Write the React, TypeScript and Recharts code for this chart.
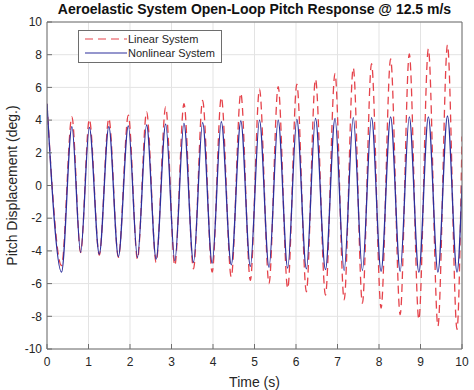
import React from 'react';
import { LineChart, Line, XAxis, YAxis, CartesianGrid } from 'recharts';

// extrema (start, trough, peak, trough, ..., end)
const times = [
  0, 0.35, 0.6, 0.81, 1.02, 1.26, 1.49, 1.72, 1.96, 2.18, 2.4, 2.63, 2.86, 3.08, 3.3,
  3.53, 3.75, 3.98, 4.2, 4.44, 4.67, 4.9, 5.12, 5.35, 5.57, 5.8, 6.02, 6.25, 6.47, 6.71,
  6.94, 7.16, 7.38, 7.6, 7.82, 8.05, 8.28, 8.51, 8.73, 8.96, 9.19, 9.42, 9.65, 9.88, 10,
];

const linearPitch = [
  5, -4.9, 4.2, -4.1, 4.05, -4.25, 4.1, -4.4, 4.3, -4.5, 4.5, -4.7, 4.8, -4.9, 5.0,
  -5.1, 5.2, -5.3, 5.4, -5.6, 5.65, -5.8, 5.9, -6.0, 6.05, -6.3, 6.2, -6.5, 6.5, -6.7,
  6.85, -7.0, 7.2, -7.2, 7.45, -7.5, 7.75, -7.9, 8.05, -8.2, 8.35, -8.6, 8.6, -8.8, 3.0,
];

const nonlinearPitch = [
  5, -5.3, 3.6, -4.1, 3.55, -4.2, 3.6, -4.35, 3.65, -4.4, 3.7, -4.5, 3.75, -4.6, 3.8,
  -4.7, 3.85, -4.75, 3.9, -4.85, 3.95, -4.95, 4.0, -5.0, 4.0, -5.05, 4.05, -5.1, 4.1, -5.15,
  4.1, -5.2, 4.15, -5.2, 4.15, -5.25, 4.2, -5.25, 4.2, -5.3, 4.2, -5.3, 4.25, -5.3, 0,
];

const xTicks = [0, 1, 2, 3, 4, 5, 6, 7, 8, 9, 10];
const yTicks = [-10, -8, -6, -4, -2, 0, 2, 4, 6, 8, 10];

const data = times.map((t, i) => ({
  t,
  linear: linearPitch[i],
  nonlinear: nonlinearPitch[i],
}));

const FONT = '"Liberation Sans", Arial, Helvetica, sans-serif';
const RED = '#e5434b';
const BLUE = '#2d2f9c';
const AXIS = '#6e6e6e';
const GRID = '#e3e3e3';
const TEXT = '#262626';

const LegendBox = () => (
  <div
    style={{
      position: 'absolute',
      left: 78,
      top: 30,
      border: `1px solid ${AXIS}`,
      background: '#fff',
      width: 142,
      height: 30,
      fontFamily: FONT,
      fontSize: 11,
      color: TEXT,
      lineHeight: '14px',
      paddingTop: 1,
      boxSizing: 'content-box',
    }}
  >
    <div style={{ display: 'flex', alignItems: 'center', height: 14 }}>
      <svg width={49} height={6}>
        <line x1={6} y1={3} x2={48} y2={3} stroke={RED} strokeWidth={1.2} strokeDasharray="8 5" />
      </svg>
      <span>Linear System</span>
    </div>
    <div style={{ display: 'flex', alignItems: 'center', height: 14 }}>
      <svg width={49} height={6}>
        <line x1={6} y1={3} x2={48} y2={3} stroke={BLUE} strokeWidth={1.2} />
      </svg>
      <span>Nonlinear System</span>
    </div>
  </div>
);

export default function App() {
  const tickStyle = { fill: TEXT, fontSize: 12, fontFamily: FONT };
  return (
    <div style={{ position: 'absolute', left: 0, top: 0, width: 474, height: 390, background: '#fff' }}>
      <div
        style={{
          position: 'absolute',
          left: 47,
          width: 415,
          top: 1,
          textAlign: 'center',
          fontFamily: FONT,
          fontWeight: 'bold',
          fontSize: 14,
          color: '#111',
          whiteSpace: 'nowrap',
        }}
      >
        Aeroelastic System Open-Loop Pitch Response @ 12.5 m/s
      </div>
      <LineChart width={474} height={390} data={data} margin={{ top: 21, right: 11, left: 0, bottom: 0 }}>
        <CartesianGrid stroke={GRID} xAxisId="b" yAxisId="l" horizontal vertical />
        <XAxis
          xAxisId="b"
          dataKey="t"
          type="number"
          domain={[0, 10]}
          ticks={xTicks}
          height={41}
          tick={tickStyle}
          tickSize={-5}
          tickMargin={13}
          stroke={AXIS}
          allowDataOverflow
          label={{ value: 'Time (s)', position: 'insideBottom', offset: 3, fill: TEXT, fontSize: 14, fontFamily: FONT }}
        />
        <XAxis
          xAxisId="t"
          dataKey="t"
          type="number"
          orientation="top"
          domain={[0, 10]}
          ticks={xTicks}
          height={1}
          tick={false}
          tickSize={-5}
          stroke={AXIS}
        />
        <YAxis
          yAxisId="l"
          type="number"
          domain={[-10, 10]}
          ticks={yTicks}
          width={47}
          tick={tickStyle}
          tickSize={-5}
          tickMargin={10}
          stroke={AXIS}
          allowDataOverflow
          label={{
            value: 'Pitch Displacement (deg.)',
            angle: -90,
            position: 'insideLeft',
            offset: 12,
            style: { textAnchor: 'middle' },
            fill: TEXT,
            fontSize: 14,
            fontFamily: FONT,
          }}
        />
        <YAxis
          yAxisId="r"
          type="number"
          orientation="right"
          domain={[-10, 10]}
          ticks={yTicks}
          width={1}
          tick={false}
          tickSize={-5}
          stroke={AXIS}
        />
        <Line
          xAxisId="b"
          yAxisId="l"
          dataKey="linear"
          name="Linear System"
          type="monotone"
          stroke={RED}
          strokeWidth={1.3}
          strokeDasharray="8 5"
          dot={false}
          isAnimationActive={false}
        />
        <Line
          xAxisId="b"
          yAxisId="l"
          dataKey="nonlinear"
          name="Nonlinear System"
          type="monotone"
          stroke={BLUE}
          strokeWidth={1.3}
          dot={false}
          isAnimationActive={false}
        />
      </LineChart>
      <LegendBox />
    </div>
  );
}
